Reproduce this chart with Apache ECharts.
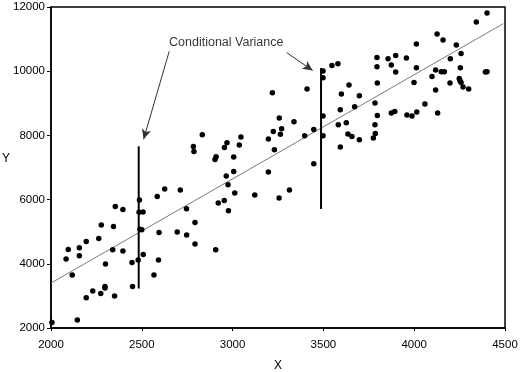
<!DOCTYPE html>
<html>
<head>
<meta charset="utf-8">
<script src="https://cdn.jsdelivr.net/npm/echarts@6/dist/echarts.min.js"></script>
<style>html,body{margin:0;padding:0;background:#fff;}#c{width:523px;height:372px;}</style>
</head>
<body>
<div id="c"></div>
<script>
const xTicks = [2000, 2500, 3000, 3500, 4000, 4500];
const yTicks = [2000, 4000, 6000, 8000, 10000, 12000];

const pointsX = [2005,2145,2083,2095,2117,2156,2156,2194,2194,2230,2263,2277,2274,2297,2297,2300,2340,2344,2354,2350,
  2396,2396,2446,2449,2487,2485,2507,2490,2500,2480,2508,2567,2585,2592,2595,2626,2712,2695,2746,2747,
  2793,2793,2907,2921,2954,2975,2977,3012,3122,
  2833,2784,2787,2909,2903,2969,2955,3046,3037,3006,2965,3006,3197,3224,3270,3263,3230,3197,3256,3313,
  4401,4342,4126,4159,4012,4232,4258,4199,3795,3795,3856,3898,3957,3874,3898,4012,3547,3580,3498,3498,
  4254,4118,4149,4166,4098,4248,4252,4258,4197,4269,4300,4392,4401,3999,3797,3641,3410,3219,3599,3698,
  4118,3784,4059,3672,3593,3893,3874,4129,4014,3960,3988,3797,3498,3257,3338,3626,3582,3784,3447,3397,
  3498,3635,3657,3698,3775,3786,3593,3447];
const pointsY = [2170,2250,4150,4449,3651,4502,4252,4698,2944,3153,4791,5209,3078,3296,3246,3994,4439,5165,5788,2997,
  5695,4402,4044,3296,5988,5607,5614,5080,5060,4118,4293,3651,6100,4118,4978,6330,6299,4991,5717,4897,
  5290,4617,4439,5894,5975,6464,5654,6209,6143,
  8022,7657,7502,7336,7252,7773,7626,7950,7701,7327,6735,6879,7888,8125,8209,8037,7555,6860,6053,6299,
  11813,11533,11159,10972,10847,10816,10555,10389,10430,10140,10389,10492,10411,10193,9975,10109,10181,10234,10006,9798,
  10109,10037,9984,9984,9838,9776,9704,9651,9632,9508,9445,9975,9984,9651,9632,9570,9445,9330,9290,9237,
  9414,9009,8978,8894,8801,8748,8698,8698,8729,8636,8604,8623,8604,8542,8427,8396,8333,8333,8187,7991,
  7991,8044,7969,7866,7919,8062,7639,7118];

const fitX = [2000, 4490];
const fitY = [3400, 11480];

const varLine1X = [2483, 2483];
const varLine1Y = [3230, 7660];
const varLine2X = [3487, 3487];
const varLine2Y = [5710, 10100];

const annotationText = 'Conditional Variance';
const annotationAt = [2650, 10890];
const arrow1From = [2651, 10620];
const arrow1To = [2510, 7880];
const arrow2From = [3298, 10580];
const arrow2To = [3441, 10020];

const zip = (a, b) => a.map((v, i) => [v, b[i]]);

const font = 'Liberation Sans, Arial, Helvetica, sans-serif';
const chart = echarts.init(document.getElementById('c'), null, {renderer: 'canvas'});
chart.setOption({
  animation: false,
  backgroundColor: '#fff',
  grid: {left: 51, right: 18, top: 7, bottom: 44, show: true, borderColor: '#000', borderWidth: 1.5,
    containLabel: false, outerBoundsMode: 'none'},
  xAxis: {
    type: 'value', min: xTicks[0], max: xTicks[xTicks.length - 1], interval: 500,
    name: 'X', nameLocation: 'middle', nameGap: 32, nameMoveOverlap: false,
    nameTextStyle: {fontFamily: font, fontSize: 12, color: '#000'},
    axisLine: {show: true, lineStyle: {color: '#000', width: 1.5}},
    axisTick: {show: true, length: 3, lineStyle: {color: '#000'}},
    axisLabel: {fontFamily: font, fontSize: 11.5, color: '#000', margin: 11, formatter: v => String(v)},
    splitLine: {show: false}
  },
  yAxis: {
    type: 'value', min: yTicks[0], max: yTicks[yTicks.length - 1], interval: 2000,
    name: 'Y', nameLocation: 'middle', nameGap: 41, nameRotate: 0, nameMoveOverlap: false,
    nameTextStyle: {fontFamily: font, fontSize: 12, color: '#000', verticalAlign: 'bottom', padding: [0, 0, 3, 0]},
    axisLine: {show: true, lineStyle: {color: '#000', width: 1.5}},
    axisTick: {show: true, length: 4, lineStyle: {color: '#000'}},
    axisLabel: {fontFamily: font, fontSize: 11.5, color: '#000', margin: 6, formatter: v => String(v)},
    splitLine: {show: false}
  },
  series: [
    {
      type: 'line', data: zip(fitX, fitY), symbol: 'none', silent: true,
      lineStyle: {color: '#7a7a7a', width: 1}, z: 1
    },
    {
      type: 'line', data: zip(varLine1X, varLine1Y), symbol: 'none', silent: true,
      lineStyle: {color: '#000', width: 2}, z: 2
    },
    {
      type: 'line', data: zip(varLine2X, varLine2Y), symbol: 'none', silent: true,
      lineStyle: {color: '#000', width: 2}, z: 2
    },
    {
      type: 'scatter', data: zip(pointsX, pointsY), symbol: 'circle', symbolSize: 5.5,
      itemStyle: {color: '#000', opacity: 1}, z: 3
    },
    {
      type: 'scatter', data: [annotationAt], symbolSize: 0, silent: true,
      label: {show: true, position: 'right', distance: 0, formatter: annotationText,
        fontFamily: font, fontSize: 12.5, color: '#000'},
      markLine: {
        silent: true, symbol: ['none', 'arrow'], symbolSize: [7, 10],
        label: {show: false},
        lineStyle: {color: '#333', width: 1, type: 'solid'},
        data: [
          [{coord: arrow1From}, {coord: arrow1To}],
          [{coord: arrow2From}, {coord: arrow2To}]
        ]
      },
      z: 4
    }
  ]
});
</script>
</body>
</html>
